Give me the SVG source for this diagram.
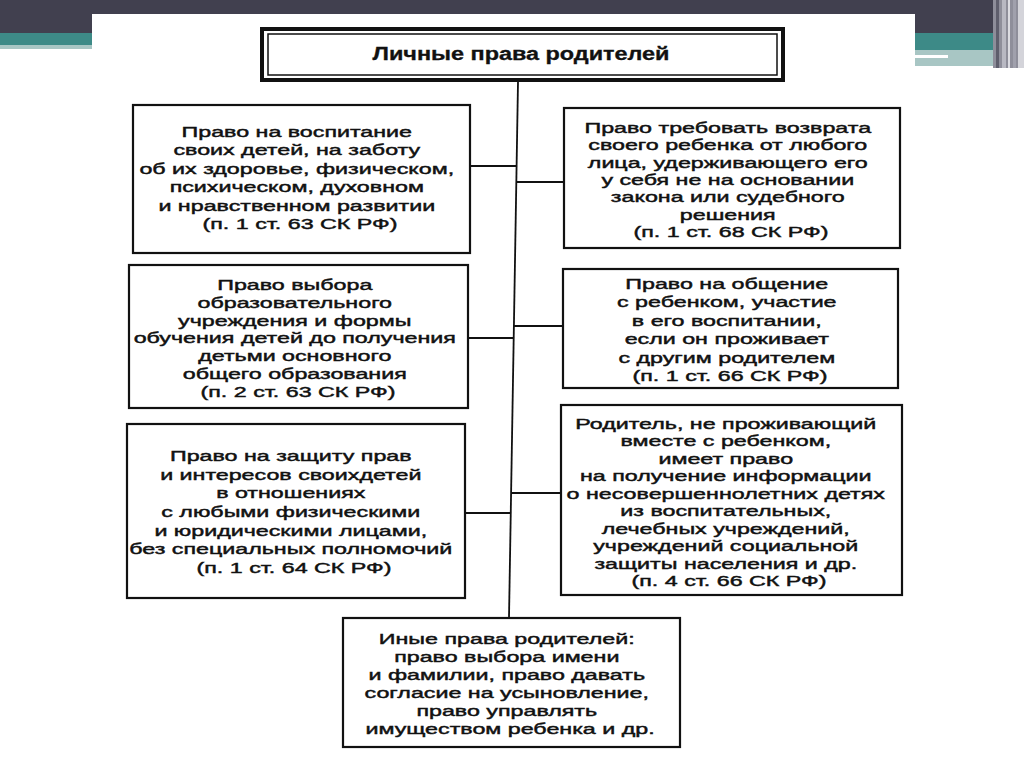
<svg xmlns="http://www.w3.org/2000/svg" width="1024" height="768" viewBox="0 0 1024 768">
<style>
.box{fill:#fff;stroke:#111;stroke-width:2.2}
.ln{stroke:#111;stroke-width:1.8;fill:none}
.t{font-family:"Liberation Sans",Arial,sans-serif;font-size:15.5px;fill:#111;text-anchor:middle;stroke:#111;stroke-width:0.45}
.title{font-family:"Liberation Sans",Arial,sans-serif;font-size:17.5px;font-weight:bold;fill:#111;text-anchor:middle;stroke:#111;stroke-width:0.3}
</style>
<rect x="0" y="0" width="1024" height="768" fill="#fff"/>
<g id="slide-decor">
<rect x="0" y="0" width="1024" height="33" fill="#41404f"/>
<rect x="0" y="33" width="1000" height="12" fill="#3d8a87"/>
<rect x="0" y="45" width="92" height="4" fill="#a8c6c4"/>
<rect x="915" y="45" width="85" height="5" fill="#3d8a87"/>
<rect x="915" y="50" width="85" height="16" fill="#a8c6c4"/>
<rect x="915" y="55" width="33" height="3" fill="#ffffff"/>
<rect x="993" y="0" width="31" height="68" fill="#8e8e9a"/>
<rect x="996" y="0" width="3" height="68" fill="#5e5e6c"/>
<rect x="1002" y="0" width="4" height="68" fill="#b8b8c2"/>
<rect x="1008" y="0" width="2" height="68" fill="#dcdce2"/>
<rect x="1013" y="0" width="3" height="68" fill="#a0a0ac"/>
<rect x="1018" y="0" width="6" height="68" fill="#d4d4da"/>
<rect x="92" y="14" width="823" height="754" fill="#fff"/>
</g>
<g id="connectors">
<line class="ln" x1="518" y1="82" x2="509" y2="618"/>
<line class="ln" x1="470" y1="166" x2="516.6" y2="166"/>
<line class="ln" x1="516.3" y1="182" x2="564" y2="182"/>
<line class="ln" x1="468" y1="338" x2="513.7" y2="338"/>
<line class="ln" x1="513.9" y1="326" x2="563" y2="326"/>
<line class="ln" x1="465" y1="513" x2="510.8" y2="513"/>
<line class="ln" x1="511.1" y1="493" x2="561" y2="493"/>
</g>
<g id="title">
<rect x="262" y="29" width="521" height="51" fill="#fff" stroke="#111" stroke-width="4"/>
<rect x="268" y="34" width="509" height="41" fill="none" stroke="#111" stroke-width="1.5"/>
<text class="title" x="521" y="60" textLength="297" lengthAdjust="spacingAndGlyphs">Личные права родителей</text>
</g>
<g id="node-left1">
<rect class="box" x="133" y="105" width="337" height="148"/>
<text class="t" transform="translate(300 0) scale(1.5 1)">
<tspan x="0" y="137">Право на воспитание</tspan>
<tspan x="0" y="155.4">своих детей, на заботу</tspan>
<tspan x="0" y="173.8">об их здоровье, физическом,</tspan>
<tspan x="0" y="192.2">психическом, духовном</tspan>
<tspan x="0" y="210.6">и нравственном развитии</tspan>
<tspan x="0" y="229">(п. 1 ст. 63 СК РФ)</tspan>
</text>
</g>
<g id="node-right1">
<rect class="box" x="564" y="108" width="336" height="140"/>
<text class="t" transform="translate(731 0) scale(1.5 1)">
<tspan x="0" y="133">Право требовать возврата</tspan>
<tspan x="0" y="150.3">своего ребенка от любого</tspan>
<tspan x="0" y="167.6">лица, удерживающего его</tspan>
<tspan x="0" y="185">у себя не на основании</tspan>
<tspan x="0" y="202.3">закона или судебного</tspan>
<tspan x="0" y="219.6">решения</tspan>
<tspan x="0" y="237">(п. 1 ст. 68 СК РФ)</tspan>
</text>
</g>
<g id="node-left2">
<rect class="box" x="129" y="265" width="339" height="143"/>
<text class="t" transform="translate(298 0) scale(1.5 1)">
<tspan x="0" y="290">Право выбора</tspan>
<tspan x="0" y="307.8">образовательного</tspan>
<tspan x="0" y="325.6">учреждения и формы</tspan>
<tspan x="0" y="343.4">обучения детей до получения</tspan>
<tspan x="0" y="361.2">детьми основного</tspan>
<tspan x="0" y="379">общего образования</tspan>
<tspan x="0" y="397">(п. 2 ст. 63 СК РФ)</tspan>
</text>
</g>
<g id="node-right2">
<rect class="box" x="563" y="269" width="335" height="119"/>
<text class="t" transform="translate(730 0) scale(1.5 1)">
<tspan x="0" y="289">Право на общение</tspan>
<tspan x="0" y="307.4">с ребенком, участие</tspan>
<tspan x="0" y="325.8">в его воспитании,</tspan>
<tspan x="0" y="344.2">если он проживает</tspan>
<tspan x="0" y="362.6">с другим родителем</tspan>
<tspan x="0" y="381">(п. 1 ст. 66 СК РФ)</tspan>
</text>
</g>
<g id="node-left3">
<rect class="box" x="127" y="424" width="338" height="174"/>
<text class="t" transform="translate(294 0) scale(1.5 1)">
<tspan x="0" y="461">Право на защиту прав</tspan>
<tspan x="0" y="479.7">и интересов своихдетей</tspan>
<tspan x="0" y="498.3">в отношениях</tspan>
<tspan x="0" y="517">с любыми физическими</tspan>
<tspan x="0" y="535.7">и юридическими лицами,</tspan>
<tspan x="0" y="554.3">без специальных полномочий</tspan>
<tspan x="0" y="573">(п. 1 ст. 64 СК РФ)</tspan>
</text>
</g>
<g id="node-right3">
<rect class="box" x="561" y="405" width="341" height="190"/>
<text class="t" transform="translate(729 0) scale(1.5 1)">
<tspan x="0" y="429">Родитель, не проживающий</tspan>
<tspan x="0" y="446.4">вместе с ребенком,</tspan>
<tspan x="0" y="463.9">имеет право</tspan>
<tspan x="0" y="481.3">на получение информации</tspan>
<tspan x="0" y="498.8">о несовершеннолетних детях</tspan>
<tspan x="0" y="516.2">из воспитательных,</tspan>
<tspan x="0" y="533.7">лечебных учреждений,</tspan>
<tspan x="0" y="551.1">учреждений социальной</tspan>
<tspan x="0" y="568.6">защиты населения и др.</tspan>
<tspan x="0" y="586">(п. 4 ст. 66 СК РФ)</tspan>
</text>
</g>
<g id="node-bottom">
<rect class="box" x="343" y="618" width="337" height="129"/>
<text class="t" transform="translate(510 0) scale(1.5 1)">
<tspan x="0" y="644">Иные права родителей:</tspan>
<tspan x="0" y="662">право выбора имени</tspan>
<tspan x="0" y="680">и фамилии, право давать</tspan>
<tspan x="0" y="698">согласие на усыновление,</tspan>
<tspan x="0" y="716">право управлять</tspan>
<tspan x="0" y="734">имуществом ребенка и др.</tspan>
</text>
</g>
</svg>
